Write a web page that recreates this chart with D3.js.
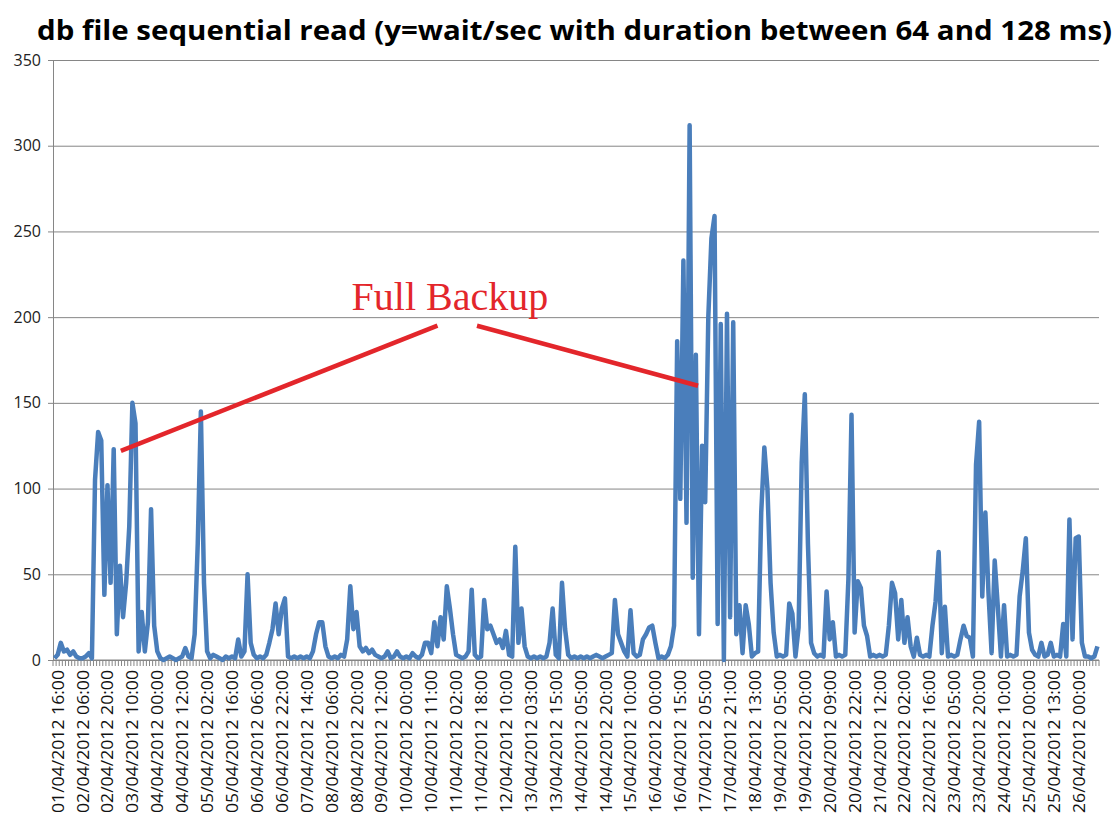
<!DOCTYPE html>
<html><head><meta charset="utf-8">
<script src="https://cdn.jsdelivr.net/npm/d3@7"></script>
<style>body{margin:0;background:#fff}</style>
</head><body>
<svg id="c" width="1117" height="819"></svg>
<script>
const title = "db file sequential read (y=wait/sec with duration between 64 and 128 ms)";
const labels = ["01/04/2012 16:00","02/04/2012 06:00","02/04/2012 20:00","03/04/2012 10:00","04/04/2012 00:00","04/04/2012 12:00","05/04/2012 02:00","05/04/2012 16:00","06/04/2012 06:00","06/04/2012 22:00","07/04/2012 14:00","08/04/2012 06:00","08/04/2012 20:00","09/04/2012 12:00","10/04/2012 00:00","10/04/2012 11:00","11/04/2012 02:00","11/04/2012 18:00","12/04/2012 10:00","13/04/2012 03:00","13/04/2012 15:00","14/04/2012 05:00","14/04/2012 20:00","15/04/2012 10:00","16/04/2012 00:00","16/04/2012 15:00","17/04/2012 05:00","17/04/2012 21:00","18/04/2012 13:00","19/04/2012 05:00","19/04/2012 20:00","20/04/2012 09:00","20/04/2012 22:00","21/04/2012 12:00","22/04/2012 02:00","22/04/2012 16:00","23/04/2012 05:00","23/04/2012 20:00","24/04/2012 10:00","25/04/2012 00:00","25/04/2012 13:00","26/04/2012 00:00"];
const values = [
1,3,10,5,6,3,5,2,1,1,
2,4,1,105,133,128,38,102,45,123,
15,55,25,45,78,150,138,5,28,5,
22,88,20,5,1,0,1,2,1,0,
1,2,7,2,1,15,68,145,45,5,
1,3,2,1,0,2,1,2,1,12,
2,5,50,10,3,1,2,1,3,10,
18,33,15,30,36,2,1,2,1,2,
1,2,1,5,15,22,22,8,2,1,
2,1,3,2,12,43,18,28,8,5,
7,4,6,3,2,1,2,5,1,2,
5,2,1,2,1,4,2,1,3,10,
10,4,22,8,25,12,43,30,15,3,
2,1,2,5,41,3,1,2,35,18,
20,15,10,12,7,17,3,2,66,10,
30,8,2,1,2,1,2,1,2,10,
30,3,1,45,18,3,1,2,1,2,
1,2,1,2,3,2,1,2,3,4,
35,15,10,5,2,29,4,2,3,12,
15,19,20,10,1,2,1,3,8,20,
186,94,233,80,312,48,178,15,125,92,
200,246,259,21,196,0,202,25,197,15,
32,4,32,21,2,4,5,86,124,100,
45,16,2,3,2,3,33,27,2,19,
115,155,68,10,4,2,3,2,40,12,
22,2,3,2,3,47,143,16,46,42,
20,14,2,3,2,3,2,3,20,45,
39,12,35,10,25,8,2,13,3,2,
3,2,20,34,63,4,31,2,3,2,
3,12,20,14,13,2,114,139,37,86,
39,4,58,31,2,32,2,3,2,3,
37,52,71,16,6,3,2,10,2,3,
10,2,3,2,21,2,82,12,71,72,
10,2,2,1,2,8];
const yTicks = [0,50,100,150,200,250,300,350];
const labelStep = 8, labelStart = 1;
const noteText = "Full Backup";
const noteLines = [[[21.3,122],[123,195]],[[135.7,195],[206.7,160]]];
const noteAnchor = [127, 204];

const svg = d3.select("#c");
const L = 53, R = 1099, T = 60, B = 660;
const x = d3.scaleBand().domain(d3.range(values.length)).range([L, R]);
const xc = i => L + (i + 0.5) * x.step();
const y = d3.scaleLinear().domain([0, 350]).range([B, T]);

svg.append("text").attr("x", 37).attr("y", 40).attr("font-family", "Open Sans, sans-serif")
  .attr("font-weight", "bold").attr("font-size", 26).attr("textLength", 1075).attr("lengthAdjust","spacingAndGlyphs").text(title);

const gy = svg.append("g").attr("transform", `translate(${L},0)`)
  .call(d3.axisLeft(y).tickValues(yTicks).tickSize(-(R - L)).tickPadding(12).tickFormat(d3.format("d")));
gy.select(".domain").attr("stroke", "#868686");
gy.selectAll(".tick line").attr("stroke", "#868686").attr("x1", -5);
gy.selectAll(".tick text").attr("font-family", "Open Sans, sans-serif").attr("font-size", 16).attr("fill", "#222");

svg.append("line").attr("x1", L).attr("x2", R).attr("y1", B).attr("y2", B).attr("stroke", "#868686").attr("stroke-width", 1);
svg.append("g").selectAll("line").data(d3.range(values.length + 1)).join("line")
  .attr("x1", i => L + i * x.step()).attr("x2", i => L + i * x.step())
  .attr("y1", B).attr("y2", B + 6).attr("stroke", "#868686").attr("stroke-width", 1);
svg.append("g").selectAll("text").data(labels).join("text")
  .attr("transform", (d, k) => `translate(${xc(labelStart + k * labelStep) + 6},${B + 10}) rotate(-90)`)
  .attr("text-anchor", "end").attr("font-family", "Open Sans, sans-serif").attr("font-size", 17)
  .attr("textLength", 143).attr("lengthAdjust","spacingAndGlyphs").attr("fill", "#111").text(d => d);

const line = d3.line().x((d, i) => xc(i)).y(d => y(d));
svg.append("path").datum(values).attr("d", line).attr("fill", "none")
  .attr("stroke", "#4a7ebb").attr("stroke-width", 4.5).attr("stroke-linejoin", "round");

svg.append("g").selectAll("line").data(noteLines).join("line")
  .attr("x1", d => xc(d[0][0])).attr("y1", d => y(d[0][1])).attr("x2", d => xc(d[1][0])).attr("y2", d => y(d[1][1]))
  .attr("stroke", "#e3262b").attr("stroke-width", 4.5);
svg.append("text").attr("x", xc(noteAnchor[0])).attr("y", y(noteAnchor[1])).attr("text-anchor", "middle")
  .attr("font-family", "Liberation Serif, serif").attr("font-size", 40).attr("fill", "#e3262b").text(noteText);
</script>
</body></html>
